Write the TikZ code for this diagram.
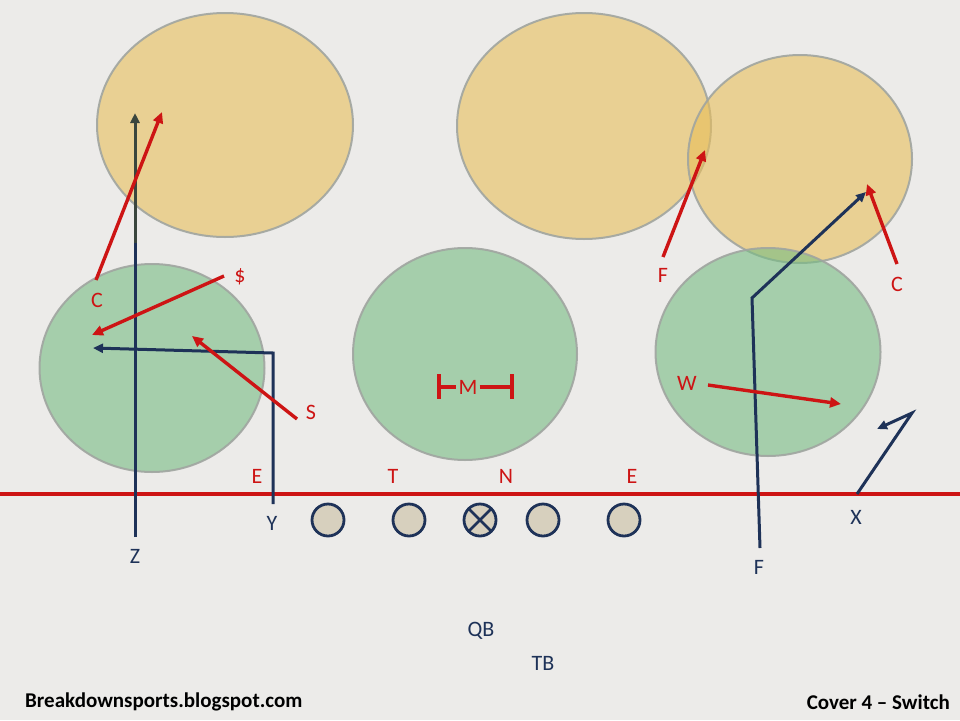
\documentclass[tikz,border=0pt]{standalone}
\usepackage{fontspec}
\setmainfont{Carlito}
\usetikzlibrary{arrows.meta,shapes.geometric}
\definecolor{bg}{RGB}{236,235,233}
\definecolor{gold}{RGB}{232,190,90}
\definecolor{grn}{RGB}{118,188,131}
\definecolor{rim}{RGB}{160,165,160}
\definecolor{dred}{RGB}{205,20,20}
\definecolor{navy}{RGB}{30,50,88}
\definecolor{dkgrey}{RGB}{58,70,62}
\definecolor{olfill}{RGB}{215,208,190}
\begin{document}
\begin{tikzpicture}[x=1pt,y=-1pt,
  font=\fontsize{22}{26}\selectfont,
  zoneY/.style={ellipse,fill=gold,fill opacity=0.6,draw=rim,draw opacity=0.9,line width=2pt,inner sep=0pt},
  zoneG/.style={ellipse,fill=grn,fill opacity=0.6,draw=rim,draw opacity=0.9,line width=2pt,inner sep=0pt},
  lineman/.style={circle,minimum size=32pt,inner sep=0pt,fill=olfill,draw=navy,line width=2.8pt},
  rlab/.style={text=dred,inner sep=0pt},
  blab/.style={text=navy,inner sep=0pt},
  rroute/.style={draw=dred,line width=3.4pt,-{Triangle[length=11pt,width=10pt]}},
  broute/.style={draw=navy,line width=3pt},
  barrow/.style={broute,-{Triangle[length=10pt,width=9pt]}},
  foot/.style={font=\fontsize{21}{25}\selectfont\bfseries,text=black,inner sep=0pt}
]
\fill[bg] (0,0) rectangle (960,720);
\useasboundingbox (0,0) rectangle (960,720);

% deep zones
\node[zoneY,minimum width=256pt,minimum height=224pt] (deep1) at (225,125) {};
\node[zoneY,minimum width=254pt,minimum height=226pt] (deep2) at (584,126) {};
\node[zoneY,minimum width=224pt,minimum height=208pt] (deep3) at (800,159) {};
% underneath zones
\node[zoneG,minimum width=225pt,minimum height=208pt] (flat1) at (152,368) {};
\node[zoneG,minimum width=224pt,minimum height=212pt] (hook) at (465,354) {};
\node[zoneG,minimum width=225pt,minimum height=208pt] (flat2) at (768,352) {};

% line of scrimmage
\coordinate (los0) at (0,494);
\coordinate (los1) at (960,494);
\draw[dred,line width=3.4pt] (los0) -- (los1);

% offensive line
\node[lineman] (ol1) at (328,520) {};
\node[lineman] (ol2) at (409,520) {};
\node[lineman,path picture={\draw[navy,line width=2.8pt]
  (path picture bounding box.south west) -- (path picture bounding box.north east)
  (path picture bounding box.north west) -- (path picture bounding box.south east);}] (ctr) at (480,520) {};
\node[lineman] (ol4) at (543,520) {};
\node[lineman] (ol5) at (624,520) {};

% offensive routes
\coordinate (z0) at (135,537);
\coordinate (z1) at (135,243);
\coordinate (z2) at (135,113);
\draw[broute] (z0) -- (z1);
\draw[barrow,draw=dkgrey] (z1) -- (z2);
\coordinate (y0) at (273,504);
\coordinate (y1) at (273,353);
\coordinate (y2) at (93,348);
\draw[barrow] (y0) -- (y1) -- (y2);
\coordinate (f0) at (760,548);
\coordinate (f1) at (752,298);
\coordinate (f2) at (866,192);
\draw[barrow] (f0) -- (f1) -- (f2);
\coordinate (x0) at (857,494);
\coordinate (x1) at (912,413);
\coordinate (x2) at (877,429);
\draw[barrow] (x0) -- (x1) -- (x2);

% defensive drops
\coordinate (c0) at (96,280);
\coordinate (c1) at (162,112);
\draw[rroute] (c0) -- (c1);
\coordinate (d0) at (224,276);
\coordinate (d1) at (92,335);
\draw[rroute] (d0) -- (d1);
\coordinate (s0) at (297,419);
\coordinate (s1) at (192,336);
\draw[rroute] (s0) -- (s1);
\coordinate (fs0) at (663,257);
\coordinate (fs1) at (705,150);
\draw[rroute] (fs0) -- (fs1);
\coordinate (cr0) at (897,264);
\coordinate (cr1) at (867,184);
\draw[rroute] (cr0) -- (cr1);
\coordinate (w0) at (708,385);
\coordinate (w1) at (841,404);
\draw[rroute] (w0) -- (w1);

% Mike
\node[rlab] (M) at (468,387) {M};
\coordinate (ml) at (439,387);
\coordinate (mr) at (512,387);
\coordinate (mlt) at (439,374);
\coordinate (mlb) at (439,399);
\coordinate (mrt) at (512,374);
\coordinate (mrb) at (512,399);
\draw[dred,line width=3.4pt] (mlt) -- (mlb);
\draw[dred,line width=3.4pt] (mrt) -- (mrb);
\draw[dred,line width=3.4pt] (ml) -- ([xshift=-2pt]M.west);
\draw[dred,line width=3.4pt] ([xshift=2pt]M.east) -- (mr);

% defensive labels
\node[rlab] (lC) at (97,300) {C};
\node[rlab] (lD) at (240,277) {\$};
\node[rlab] (lS) at (311,412) {S};
\node[rlab] (lE1) at (257,476) {E};
\node[rlab] (lT) at (393,476) {T};
\node[rlab] (lN) at (506,476) {N};
\node[rlab] (lE2) at (632,476) {E};
\node[rlab] (lW) at (687,383) {W};
\node[rlab] (lF) at (663,275) {F};
\node[rlab] (lC2) at (897,284) {C};

% offensive labels
\node[blab] (lY) at (272,523) {Y};
\node[blab] (lZ) at (135,556) {Z};
\node[blab] (lFo) at (759,567) {F};
\node[blab] (lX) at (856,517) {X};
\node[blab] (lQB) at (481,631) {QB};
\node[blab] (lTB) at (543,663) {TB};

% footer
\node[foot,anchor=west] (site) at (25,702) {Breakdownsports.blogspot.com};
\node[foot,anchor=east] (title) at (950,702) {Cover 4 – Switch};
\end{tikzpicture}
\end{document}
